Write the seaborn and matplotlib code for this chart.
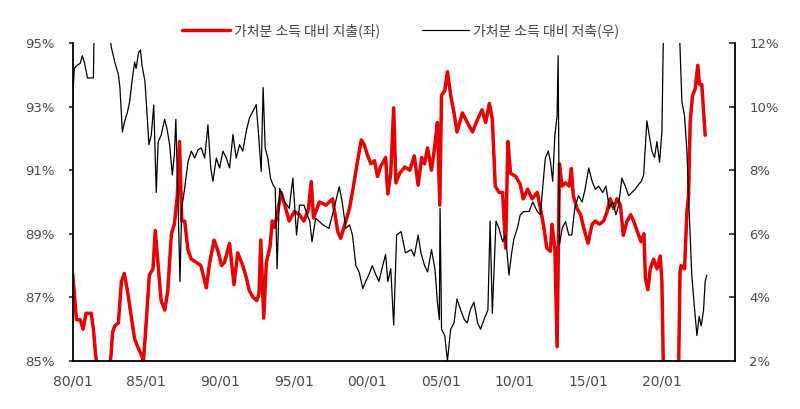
import matplotlib
matplotlib.use("Agg")
import matplotlib.pyplot as plt
import seaborn as sns

# ==========================================================
# Data : decimal year / ratio in %
# ==========================================================

spend_year = [
    1980.0, 1980.25, 1980.5, 1980.7, 1980.9, 1981.25, 1981.4, 1981.55, 1981.7, 1982.0,
    1982.2, 1982.45, 1982.6, 1982.7, 1982.85, 1983.1, 1983.3, 1983.5, 1983.75, 1984.0,
    1984.2, 1984.45, 1984.65, 1984.8, 1985.0, 1985.2, 1985.45, 1985.6, 1985.8, 1986.0,
    1986.25, 1986.45, 1986.7, 1986.9, 1987.1, 1987.25, 1987.4, 1987.6, 1987.82, 1988.05,
    1988.4, 1988.7, 1989.07, 1989.3, 1989.6, 1989.9, 1990.1, 1990.3, 1990.65, 1990.95,
    1991.2, 1991.55, 1991.8, 1992.0, 1992.25, 1992.5, 1992.65, 1992.77, 1992.97, 1993.15,
    1993.4, 1993.55, 1993.7, 1993.88, 1994.15, 1994.4, 1994.7, 1995.05, 1995.4, 1995.7,
    1996.0, 1996.2, 1996.35, 1996.75, 1997.2, 1997.65, 1998.0, 1998.2, 1998.55, 1998.8,
    1999.0, 1999.35, 1999.6, 1999.8, 2000.0, 2000.25, 2000.5, 2000.7, 2000.9, 2001.25,
    2001.4, 2001.6, 2001.8, 2001.95, 2002.2, 2002.55, 2002.9, 2003.2, 2003.46, 2003.7,
    2003.9, 2004.1, 2004.37, 2004.6, 2004.77, 2004.93, 2005.05, 2005.27, 2005.45, 2005.67,
    2005.9, 2006.1, 2006.47, 2006.8, 2007.15, 2007.5, 2007.8, 2008.05, 2008.3, 2008.5,
    2008.7, 2008.96, 2009.2, 2009.4, 2009.56, 2009.74, 2010.1, 2010.4, 2010.6, 2010.9,
    2011.2, 2011.55, 2011.77, 2012.0, 2012.2, 2012.45, 2012.55, 2012.75, 2012.9, 2013.06,
    2013.24, 2013.47, 2013.73, 2013.87, 2014.0, 2014.25, 2014.5, 2014.7, 2015.0, 2015.28,
    2015.5, 2015.77, 2016.06, 2016.3, 2016.5, 2016.75, 2016.97, 2017.2, 2017.4, 2017.65,
    2017.9, 2018.1, 2018.35, 2018.6, 2018.8, 2018.9, 2019.07, 2019.23, 2019.46, 2019.69,
    2019.91, 2020.02, 2020.13, 2020.5, 2020.9, 2021.15, 2021.25, 2021.33, 2021.56, 2021.72,
    2021.83, 2021.94, 2022.1, 2022.28, 2022.46, 2022.57, 2022.73, 2022.96,
]
spend_ratio = [
    87.7, 86.3, 86.3, 86.0, 86.5, 86.5, 86.0, 85.2, 84.6, 84.8,
    84.9, 84.6, 85.2, 85.9, 86.1, 86.2, 87.5, 87.75, 87.1, 86.3,
    85.7, 85.4, 85.2, 85.0, 86.3, 87.7, 87.9, 89.1, 88.0, 86.9,
    86.6, 87.2, 89.0, 89.3, 90.2, 91.9, 89.4, 89.4, 88.5, 88.2,
    88.1, 88.0, 87.3, 88.1, 88.8, 88.4, 88.0, 88.1, 88.7, 87.4,
    88.4, 88.0, 87.6, 87.2, 87.0, 86.9, 87.1, 88.8, 86.35, 88.1,
    88.6, 89.4, 89.2, 89.6, 90.3, 89.9, 89.4, 89.7, 89.6, 89.4,
    89.75, 90.64, 89.5, 90.0, 89.9, 90.1, 89.07, 88.86, 89.4, 89.8,
    90.32, 91.3, 91.95, 91.8, 91.5, 91.2, 91.3, 90.8, 91.1, 91.4,
    90.25, 90.9, 92.96, 90.6, 90.9, 91.1, 91.0, 91.45, 90.53, 91.4,
    91.2, 91.7, 91.0, 91.8, 92.5, 89.9, 93.36, 93.5, 94.1, 93.36,
    92.8, 92.2, 92.8, 92.5, 92.2, 92.6, 92.9, 92.5, 93.1, 92.6,
    90.5, 90.3, 90.3, 88.55, 91.9, 90.9, 90.8, 90.55, 90.1, 90.4,
    90.1, 90.3, 89.8, 89.2, 88.55, 88.45, 89.3, 88.55, 85.45, 91.2,
    90.5, 90.6, 90.5, 91.05, 90.2, 89.8, 89.6, 89.2, 88.7, 89.3,
    89.4, 89.3, 89.4, 89.7, 90.1, 89.8, 90.1, 89.9, 88.95, 89.4,
    89.6, 89.4, 89.07, 88.75, 89.0, 87.6, 87.24, 87.9, 88.2, 87.9,
    88.3, 87.5, 84.5, 83.5, 83.8, 84.5, 87.8, 88.0, 87.9, 89.7,
    90.2, 92.5, 93.35, 93.55, 94.3, 93.7, 93.7, 92.1,
]

save_year = [
    1980.0, 1980.1, 1980.3, 1980.5, 1980.65, 1980.8, 1981.0, 1981.2, 1981.4, 1981.45,
    1981.7, 1982.2, 1982.55, 1982.6, 1982.85, 1983.1, 1983.2, 1983.37, 1983.5, 1983.7,
    1983.86, 1984.05, 1984.2, 1984.3, 1984.47, 1984.6, 1984.7, 1984.9, 1985.04, 1985.17,
    1985.33, 1985.5, 1985.67, 1985.8, 1986.0, 1986.24, 1986.4, 1986.58, 1986.76, 1986.9,
    1987.0, 1987.15, 1987.28, 1987.4, 1987.6, 1987.83, 1988.05, 1988.28, 1988.5, 1988.73,
    1988.96, 1989.18, 1989.37, 1989.52, 1989.75, 1989.97, 1990.2, 1990.43, 1990.65, 1990.88,
    1991.1, 1991.33, 1991.55, 1991.78, 1992.0, 1992.23, 1992.46, 1992.62, 1992.8, 1992.93,
    1993.07, 1993.25, 1993.43, 1993.6, 1993.75, 1993.88, 1994.05, 1994.4, 1994.7, 1994.95,
    1995.2, 1995.4, 1995.7, 1996.1, 1996.25, 1996.5, 1997.0, 1997.4, 1997.75, 1998.1,
    1998.3, 1998.55, 1998.8, 1999.0, 1999.23, 1999.45, 1999.7, 1999.9, 2000.1, 2000.35,
    2000.6, 2000.8, 2001.0, 2001.25, 2001.4, 2001.6, 2001.8, 2002.0, 2002.3, 2002.6,
    2003.0, 2003.2, 2003.46, 2003.65, 2003.9, 2004.1, 2004.37, 2004.6, 2004.77, 2004.9,
    2004.95, 2005.05, 2005.27, 2005.45, 2005.67, 2005.9, 2006.1, 2006.35, 2006.6, 2006.8,
    2007.0, 2007.25, 2007.5, 2007.7, 2007.93, 2008.2, 2008.35, 2008.5, 2008.75, 2008.95,
    2009.2, 2009.4, 2009.63, 2009.8, 2009.97, 2010.2, 2010.4, 2010.65, 2011.0, 2011.25,
    2011.55, 2011.77, 2011.93, 2012.1, 2012.3, 2012.45, 2012.6, 2012.75, 2012.9, 2012.97,
    2013.06, 2013.24, 2013.47, 2013.7, 2013.9, 2014.1, 2014.35, 2014.6, 2014.8, 2015.05,
    2015.28, 2015.5, 2015.72, 2016.0, 2016.22, 2016.45, 2016.68, 2016.9, 2017.08, 2017.3,
    2017.53, 2017.76, 2017.98, 2018.2, 2018.44, 2018.62, 2018.78, 2018.9, 2019.0, 2019.16,
    2019.34, 2019.52, 2019.68, 2019.86, 2020.02, 2020.13, 2020.6, 2021.2, 2021.38, 2021.56,
    2021.72, 2021.83, 2021.94, 2022.05, 2022.2, 2022.4, 2022.55, 2022.69, 2022.85, 2022.96,
    2023.07,
]
save_ratio = [
    10.26, 11.2, 11.3, 11.36, 11.6, 11.36, 10.9, 10.9, 10.9, 12.5,
    13.0, 13.0, 12.3, 11.9, 11.4, 11.0, 10.6, 9.2, 9.5, 9.8,
    10.15, 10.9, 11.4, 11.2, 11.7, 11.78, 11.3, 10.8, 9.8, 8.8,
    9.1, 10.05, 7.3, 8.9, 9.1, 9.6, 9.3, 8.8, 7.85, 8.5,
    9.6, 7.0, 4.5, 6.8, 7.43, 8.27, 8.6, 8.38, 8.64, 8.7,
    8.38, 9.43, 8.07, 7.65, 8.38, 8.07, 8.6, 8.38, 8.07, 9.12,
    8.38, 8.8, 8.6, 9.22, 9.64, 9.85, 10.06, 9.12, 7.96, 10.6,
    8.7, 8.38, 7.75, 7.54, 7.43, 4.9, 7.43, 7.0, 6.8, 7.75,
    5.96, 6.9, 6.9, 6.38, 5.75, 6.49, 6.28, 6.17, 6.8, 7.48,
    7.0, 6.17, 6.28, 5.96, 5.0, 4.8, 4.28, 4.5, 4.7, 5.0,
    4.7, 4.5, 4.9, 5.35, 4.5, 4.9, 3.13, 5.96, 6.07, 5.4,
    5.5, 5.3, 5.96, 5.4, 5.0, 4.8, 5.5, 4.9, 3.85, 3.3,
    6.8, 3.0, 2.8, 2.0, 3.0, 3.2, 3.95, 3.6, 3.3, 3.2,
    3.6, 3.85, 3.2, 3.0, 3.3, 3.6, 6.4, 3.5, 6.4, 6.17,
    5.75, 5.96, 4.7, 5.35, 5.85, 6.17, 6.6, 6.7, 6.7, 7.0,
    6.7, 6.6, 7.5, 8.38, 8.6, 8.27, 7.65, 9.1, 9.7, 11.6,
    5.65, 6.17, 6.38, 5.96, 5.96, 6.8, 7.2, 7.0, 7.4, 8.07,
    7.65, 7.4, 7.5, 7.3, 7.5, 6.8, 7.0, 6.6, 6.9, 7.75,
    7.5, 7.2, 7.3, 7.4, 7.55, 7.65, 7.85, 8.8, 9.55, 9.1,
    8.6, 8.4, 8.9, 8.25, 9.2, 12.5, 15.0, 12.5, 10.15, 9.7,
    8.6, 7.2, 5.96, 4.7, 3.85, 2.8, 3.4, 3.1, 3.6, 4.5,
    4.7,
]

spend_label = "가처분 소득 대비 지출(좌)"
save_label = "가처분 소득 대비 저축(우)"

left_ticks = [85, 87, 89, 91, 93, 95]
right_ticks = [2, 4, 6, 8, 10, 12]
year_ticks = [1980, 1985, 1990, 1995, 2000, 2005, 2010, 2015, 2020, 2025]

# ==========================================================
# Plot
# ==========================================================

sns.set_style("white")
plt.rcParams["font.family"] = ["DejaVu Sans"]

fig = plt.figure(figsize=(8, 4.09), dpi=100)
ax = fig.add_axes([0.091, 0.1174, 0.828, 0.7775])
ax2 = ax.twinx()

sns.lineplot(x=spend_year, y=spend_ratio, ax=ax, color="#e60000",
             linewidth=2.5, errorbar=None, label=spend_label, legend=False)
sns.lineplot(x=save_year, y=save_ratio, ax=ax2, color="black",
             linewidth=0.9, errorbar=None, label=save_label, legend=False)

ax.set_xlim(1980, 2025)
ax.set_ylim(85, 95)
ax2.set_ylim(2, 12)

ax.set_xticks(year_ticks)
ax.set_xticklabels([f"{y % 100:02d}/01" if y < 2025 else "" for y in year_ticks])
ax.set_yticks(left_ticks)
ax.set_yticklabels([f"{v}%" for v in left_ticks])
ax2.set_yticks(right_ticks)
ax2.set_yticklabels([f"{v}%" for v in right_ticks])

ax.set_xlabel("")
ax.set_ylabel("")
ax2.set_ylabel("")

for a in (ax, ax2):
    a.spines["top"].set_visible(False)
    for s in a.spines.values():
        s.set_linewidth(1.3)
        s.set_color("black")
ax.spines["right"].set_visible(False)
ax2.spines["left"].set_visible(False)
ax2.spines["bottom"].set_visible(False)

ax.tick_params(axis="x", direction="out", length=4, width=1.2,
               labelsize=10, labelcolor="#4a4a4a", pad=6)
ax.tick_params(axis="y", direction="out", length=3, width=1.2,
               labelsize=9.5, labelcolor="#4a4a4a", pad=10)
ax2.tick_params(axis="y", direction="in", length=4, width=1.2,
                labelsize=9.5, labelcolor="#4a4a4a", pad=10)

# legend on top
h1, l1 = ax.get_legend_handles_labels()
h2, l2 = ax2.get_legend_handles_labels()
leg = ax.legend(h1 + h2, l1 + l2, loc="center", bbox_to_anchor=(0.495, 1.038),
                ncol=2, frameon=False, handlelength=3.4, columnspacing=3.0,
                handletextpad=0.3,
                prop={"family": ["Noto Sans CJK KR", "DejaVu Sans"], "size": 10})
for t in leg.get_texts():
    t.set_color("#444444")

fig.savefig("out.png", dpi=100)
